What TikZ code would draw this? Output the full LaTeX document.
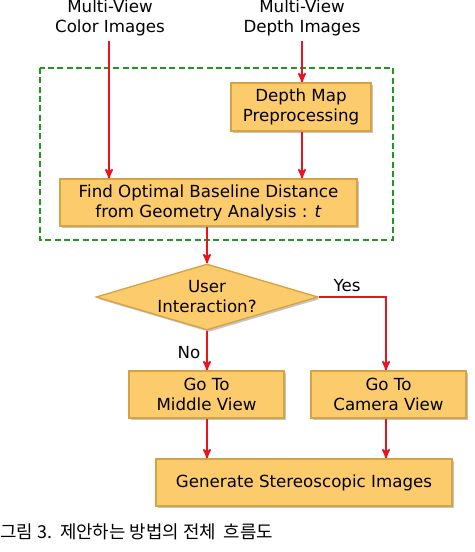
\documentclass[tikz,border=0pt]{standalone}
\usepackage{fontspec}
\setmainfont{DejaVu Sans}
\newfontfamily\krfont{Noto Sans CJK KR}
\usetikzlibrary{shapes,shapes.geometric,arrows,positioning,shadows}
\definecolor{boxfill}{HTML}{FCCB6C}
\definecolor{boxline}{HTML}{D4A346}
\definecolor{flowred}{HTML}{E8141E}
\definecolor{groupgreen}{HTML}{1E9A1E}
\tikzset{
	procbox/.style={draw=boxline,fill=boxfill,line width=1pt,align=center,
		inner sep=0pt,font=\fontsize{12.5}{15}\selectfont,
		drop shadow={shadow xshift=1.5pt,shadow yshift=-1.5pt,fill=black!45,opacity=.5}},
	decide/.style={procbox,diamond,aspect=3.36,inner sep=-5pt,minimum width=166.5pt,minimum height=49.5pt},
	flow/.style={draw=flowred,line width=1.4pt,-stealth'},
	inlabel/.style={align=center,font=\fontsize{12.5}{15}\selectfont},
	branch/.style={font=\fontsize{12.5}{14}\selectfont}
}

\begin{document}
\begin{tikzpicture}[x=0.75pt,y=-0.75pt]
				\useasboundingbox (0,0) rectangle (474,552);
				% inputs
				\node[inlabel] (color) at (110,18) {Multi-View\\Color Images};
				\node[inlabel] (depth) at (302,18) {Multi-View\\Depth Images};
				% dashed group
				\draw[groupgreen,line width=1.4pt,dash pattern=on 4.5pt off 2.5pt] (40,68) rectangle (393,240);
				\node[procbox,minimum width=105pt,minimum height=36pt] (prep) at (301,107) {Depth Map\\Preprocessing};
				\node[procbox,minimum width=222.75pt,minimum height=35.25pt] (find) at (208.5,202.5) {Find Optimal Baseline Distance\\from Geometry Analysis : \textit{t}};
				% decision
				\node[decide] (user) at (207,297) {User\\Interaction?};
				\node[procbox,minimum width=116.25pt,minimum height=35.25pt] (middle) at (206.5,394.5) {Go To\\Middle View};
				\node[procbox,minimum width=116.25pt,minimum height=35.25pt] (camera) at (388.5,394.5) {Go To\\Camera View};
				\node[procbox,minimum width=222pt,minimum height=35.25pt] (stereo) at (304,482.5) {Generate Stereoscopic Images};
				\coordinate (corner) at (386,297);
				% connectors
				\draw[flow] (color.south -| 109,0) -- (find.north -| 109,0);
				\draw[flow] (depth.south -| 302,0) -- (prep.north -| 302,0);
				\draw[flow] (prep.south -| 302,0) -- (find.north -| 302,0);
				\draw[flow] (find.south -| user.north) -- (user.north);
				\draw[flow] (user.south) -- node[branch,left,pos=.55,xshift=-1pt] {No} (middle.north -| user.south);
				\draw[flow] (user.east) -- node[branch,above,xshift=-4pt] {Yes} (corner) -- (camera.north -| corner);
				\draw[flow] (middle.south -| 207,0) -- (stereo.north -| 207,0);
				\draw[flow] (camera.south -| corner) -- (stereo.north -| corner);
				% caption
				\node[anchor=west,inner sep=0pt,font=\krfont\fontsize{13.4}{15}\selectfont] (cap) at (0,532) {그림 3.\ \ 제안하는\ 방법의\ 전체\ \ 흐름도};
\end{tikzpicture}
\end{document}
